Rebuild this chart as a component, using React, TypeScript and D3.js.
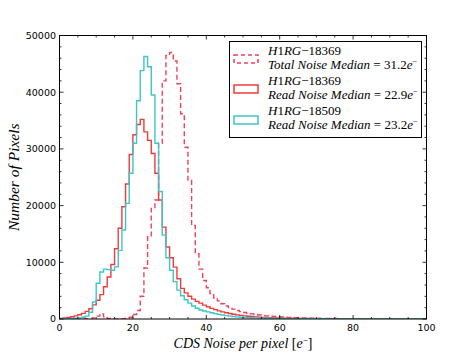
import React from "react";
import * as d3 from "d3";

const binWidth = 1;

const readNoise18369 = [
  100, 180, 280, 400, 550, 750, 1000, 1350, 1800, 2500,
  3300, 4300, 5700, 7400, 9600, 12400, 16000, 19800, 23800, 29000,
  32500, 34300, 35200, 33000, 31500, 29200, 25700, 21000, 16200, 12700,
  10800, 9150, 7100, 5400, 4600, 4000, 3500, 3100, 2800, 2450,
  2150, 1880, 1650, 1440, 1260, 1100, 960, 840, 730, 640,
  560, 490, 430, 380, 335, 295, 260, 230, 205, 185,
  165, 150, 136, 124, 113, 103, 94, 86, 78, 71,
  65, 59, 54, 49, 45, 41, 37, 34, 31, 28,
  26, 24, 22, 20, 18, 17, 15, 14, 13, 12,
  11, 10, 9, 9, 8, 8, 7, 7, 6, 6,
];

const readNoise18509 = [
  20, 40, 60, 90, 130, 200, 300, 500, 1200, 3000,
  6300, 8300, 8800, 8700, 8600, 9200, 12100, 15700, 20400, 25700,
  31000, 38500, 43800, 46300, 44500, 39500, 31000, 22500, 14800, 10800,
  8600, 6600, 5100, 4100, 3400, 2800, 2300, 1900, 1600, 1400,
  1250, 1100, 950, 820, 700, 600, 510, 430, 370, 320,
  280, 245, 215, 190, 168, 150, 134, 120, 108, 97,
  88, 80, 72, 65, 59, 54, 49, 45, 41, 37,
  34, 31, 28, 26, 24, 22, 20, 18, 17, 15,
  14, 13, 12, 11, 10, 9, 9, 8, 7, 7,
  6, 6, 5, 5, 5, 4, 4, 4, 3, 3,
];

const totalNoise18369 = [
  0, 0, 0, 0, 0, 10, 20, 40, 80, 200,
  500, 900, 400, 100, 40, 30, 30, 50, 120, 300,
  800, 1500, 4000, 9000, 14500, 19500, 21000, 31000, 42000, 46500,
  47000, 45500, 41500, 36200, 30300, 24500, 16500, 11500, 8800, 6800,
  5500, 4500, 3700, 3200, 2700, 2300, 2000, 1750, 1500, 1300,
  1150, 1000, 900, 800, 700, 620, 550, 490, 440, 400,
  360, 325, 295, 265, 240, 215, 195, 175, 158, 142,
  128, 115, 104, 94, 85, 77, 70, 63, 57, 52,
  47, 43, 39, 35, 32, 29, 26, 24, 22, 20,
  18, 16, 15, 14, 13, 12, 11, 10, 9, 8,
];

const xTicks = [0, 20, 40, 60, 80, 100];
const yTicks = [0, 10000, 20000, 30000, 40000, 50000];

const RED = "#f23a3a";
const CYAN = "#3cc6c6";
const PINK = "#f2405c";

const W = 474;
const H = 355;
const left = 59.5;
const right = 426.5;
const top = 35.5;
const bottom = 319;

export default function App() {
  const x = d3.scaleLinear().domain([0, 100]).range([left, right]);
  const y = d3.scaleLinear().domain([0, 50000]).range([bottom, top]);

  const stepPath = (vals: number[]) => {
    const pts: [number, number][] = [[0, 0]];
    vals.forEach((v, i) => pts.push([i * binWidth, v]));
    pts.push([vals.length * binWidth, vals[vals.length - 1]]);
    pts.push([vals.length * binWidth, 0]);
    const line = d3
      .line<[number, number]>()
      .x((d) => x(d[0]))
      .y((d) => y(d[1]))
      .curve(d3.curveStepAfter);
    return line(pts) || "";
  };

  const xMinor = d3.range(0, 101, 5);
  const yMinor = d3.range(0, 50001, 2000);

  const serif = "'Liberation Serif', 'DejaVu Serif', serif";
  const sans = "'DejaVu Sans', sans-serif";

  const legendX = 229.5;
  const legendY = 41.5;
  const legendW = 192;
  const legendH = 96;
  const handleX = 234;
  const handleW = 24;
  const textX = 268;

  const entries = [
    { color: PINK, dash: "4,3", l1: "18369", l2a: "Total Noise Median", val: "31.2", y1: 55, y2: 69, hy: 55 },
    { color: RED, dash: "", l1: "18369", l2a: "Read Noise Median", val: "22.9", y1: 85, y2: 99, hy: 85 },
    { color: CYAN, dash: "", l1: "18509", l2a: "Read Noise Median", val: "23.2", y1: 115, y2: 129, hy: 116 },
  ];

  return (
    <svg
      width={W}
      height={H}
      style={{ position: "absolute", left: 0, top: 0, background: "#fff" }}
    >
      <defs>
        <clipPath id="plotclip">
          <rect x={left} y={top} width={right - left} height={bottom - top} />
        </clipPath>
      </defs>
      <g clipPath="url(#plotclip)" fill="none" strokeWidth={1.4}>
        <path d={stepPath(totalNoise18369)} stroke={PINK} strokeDasharray="5,3" />
        <path d={stepPath(readNoise18369)} stroke={RED} />
        <path d={stepPath(readNoise18509)} stroke={CYAN} />
      </g>

      {/* frame */}
      <rect x={left} y={top} width={right - left} height={bottom - top} fill="none" stroke="#000" strokeWidth={1} />

      {/* x ticks */}
      {xMinor.map((t) => {
        const major = t % 20 === 0;
        const len = major ? 4 : 2;
        return (
          <g key={"xt" + t} stroke="#000" strokeWidth={0.8}>
            <line x1={x(t)} x2={x(t)} y1={bottom} y2={bottom - len} />
            <line x1={x(t)} x2={x(t)} y1={top} y2={top + len} />
          </g>
        );
      })}
      {yMinor.map((t) => {
        const major = t % 10000 === 0;
        const len = major ? 4 : 2;
        return (
          <g key={"yt" + t} stroke="#000" strokeWidth={0.8}>
            <line x1={left} x2={left + len} y1={y(t)} y2={y(t)} />
            <line x1={right} x2={right - len} y1={y(t)} y2={y(t)} />
          </g>
        );
      })}

      {xTicks.map((t) => (
        <text key={"xl" + t} x={x(t)} y={331} textAnchor="middle" fontFamily={sans} fontSize={9.5} fill="#000">
          {t}
        </text>
      ))}
      {yTicks.map((t) => (
        <text key={"yl" + t} x={56} y={y(t)} dy="0.35em" textAnchor="end" fontFamily={sans} fontSize={9.5} fill="#000">
          {t}
        </text>
      ))}

      {/* axis labels */}
      <text x={(left + right) / 2} y={348} textAnchor="middle" fontFamily={serif} fontSize={14} fontStyle="italic" fill="#000">
        CDS Noise per pixel
        <tspan fontStyle="normal"> [</tspan>
        <tspan>e</tspan>
        <tspan fontStyle="normal" fontSize={9} dy={-5}>−</tspan>
        <tspan fontStyle="normal" dy={5}>]</tspan>
      </text>
      <text
        transform={`translate(19,${(top + bottom) / 2}) rotate(-90)`}
        textAnchor="middle"
        fontFamily={serif}
        fontSize={15.5}
        fontStyle="italic"
        fill="#000"
      >
        Number of Pixels
      </text>

      {/* legend */}
      <rect x={legendX} y={legendY} width={legendW} height={legendH} fill="#fff" stroke="#000" strokeWidth={1} />
      {entries.map((e, i) => (
        <g key={"lg" + i}>
          <rect
            x={handleX}
            y={e.hy}
            width={handleW}
            height={8}
            fill="none"
            stroke={e.color}
            strokeWidth={1.5}
            strokeDasharray={e.dash || undefined}
          />
          <text x={textX} y={e.y1} fontFamily={serif} fontSize={13} fontStyle="italic" fill="#000">
            H<tspan fontStyle="normal">1</tspan>RG<tspan fontStyle="normal">−{e.l1}</tspan>
          </text>
          <text x={textX} y={e.y2} fontFamily={serif} fontSize={13} fontStyle="italic" fill="#000">
            {e.l2a}
            <tspan fontStyle="normal"> = {e.val}</tspan>
            <tspan>e</tspan>
            <tspan fontStyle="normal" fontSize={8.5} dy={-5}>−</tspan>
          </text>
        </g>
      ))}
    </svg>
  );
}
